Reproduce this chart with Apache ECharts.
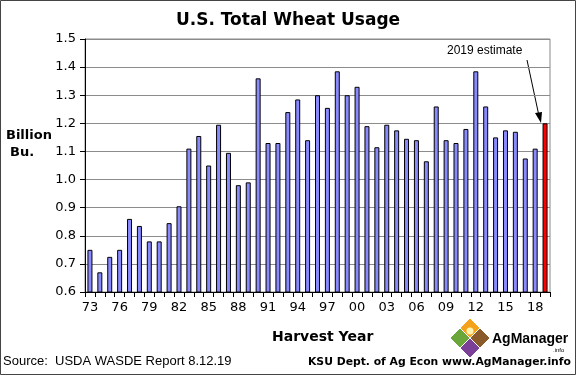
<!DOCTYPE html>
<html><head><meta charset="utf-8">
<script src="https://cdn.jsdelivr.net/npm/echarts@6/dist/echarts.min.js"></script>
<style>html,body{margin:0;padding:0;background:#fff}#c{width:576px;height:375px}</style>
</head><body><div id="c"></div>
<script>
const years = ['73','74','75','76','77','78','79','80','81','82','83','84','85','86','87','88','89','90','91','92','93','94','95','96','97','98','99','00','01','02','03','04','05','06','07','08','09','10','11','12','13','14','15','16','17','18','19'];
const usage = [0.75,0.67,0.725,0.75,0.86,0.835,0.78,0.78,0.845,0.905,1.11,1.155,1.05,1.195,1.095,0.98,0.99,1.36,1.13,1.13,1.24,1.285,1.14,1.30,1.255,1.385,1.30,1.33,1.19,1.115,1.195,1.175,1.145,1.14,1.065,1.26,1.14,1.13,1.18,1.385,1.26,1.15,1.175,1.17,1.075,1.11,1.20];
const estimateYear = '19';
const yTicks = [0.6,0.7,0.8,0.9,1.0,1.1,1.2,1.3,1.4,1.5];

const chart = echarts.init(document.getElementById('c'), null, {renderer:'canvas'});
const F = 'Liberation Sans, Arial, sans-serif';
const FV = 'DejaVu Sans, Verdana, sans-serif';
const barData = usage.map((v,i)=>({value:v, itemStyle:{color: years[i]===estimateYear ? '#ff0000' : '#8a8aff'}}));

function diamond(cx, cy, r, fill){
  return {type:'polygon', shape:{points:[[cx,cy-r],[cx+r,cy],[cx,cy+r],[cx-r,cy]]}, style:{fill:fill, stroke:'#fff', lineWidth:1}};
}

chart.setOption({
  animation:false,
  grid:{left:85, right:26, top:39, bottom:83, show:true, borderColor:'#888', borderWidth:1},
  title:{text:'U.S. Total Wheat Usage', left:'center', top:7, textStyle:{fontFamily:FV, fontWeight:'bold', fontSize:17, color:'#000'}},
  xAxis:{type:'category', data:years, boundaryGap:true,
    axisLine:{lineStyle:{color:'#000'}},
    axisTick:{show:true, interval:0, length:5, lineStyle:{color:'#000'}},
    axisLabel:{interval:2, fontFamily:FV, fontSize:13, color:'#000', margin:9}
  },
  yAxis:{type:'value', min:0.6, max:1.5, interval:0.1,
    axisLine:{show:true, lineStyle:{color:'#000'}},
    axisTick:{show:true, inside:false, length:5, lineStyle:{color:'#000'}},
    axisLabel:{fontFamily:FV, fontSize:13, color:'#000', margin:9, formatter:v=>v.toFixed(1)},
    splitLine:{show:true, lineStyle:{color:'#8c8c8c', width:1}}
  },
  series:[{type:'bar', data:barData, barWidth:5, itemStyle:{borderColor:'#000', borderWidth:1}}],
  graphic:[
    {type:'rect', shape:{x:0.5,y:0.5,width:575,height:374}, style:{fill:'none', stroke:'#444', lineWidth:1}, silent:true},
    {type:'text', left:6, top:129, style:{text:'Billion', font:'bold 13px '+FV, fill:'#000'}},
    {type:'text', left:10, top:146, style:{text:'Bu.', font:'bold 13px '+FV, fill:'#000'}},
    {type:'text', left:272, top:330, style:{text:'Harvest Year', font:'bold 14px '+FV, fill:'#000'}},
    {type:'text', left:3, top:355, style:{text:'Source:  USDA WASDE Report 8.12.19', font:'13px '+F, fill:'#000'}},
    {type:'text', left:308, top:357, style:{text:'KSU Dept. of Ag Econ www.AgManager.info', font:'bold 10.8px '+FV, fill:'#000'}},
    {type:'text', left:447, top:45, style:{text:'2019 estimate', font:'12px '+F, fill:'#000'}},
    {type:'line', shape:{x1:527,y1:60,x2:539,y2:116}, style:{stroke:'#000', lineWidth:1}},
    {type:'polygon', shape:{points:[[541,123],[535,113],[542,112]]}, style:{fill:'#000'}},
    diamond(470,328,10,'#f4a11b'),
    {type:'circle', shape:{cx:470,cy:331,r:3.5}, style:{fill:'#fff3b0'}},
    diamond(460,338,10,'#6aa63a'),
    diamond(480,338,10,'#8b5a2b'),
    diamond(470,348,10,'#7b3f98'),
    {type:'text', left:492, top:332, style:{text:'AgManager', font:'bold 14px '+F, fill:'#000'}},
    {type:'text', left:553, top:347, style:{text:'.info', font:'6px '+F, fill:'#000'}}
  ]
});
</script></body></html>
